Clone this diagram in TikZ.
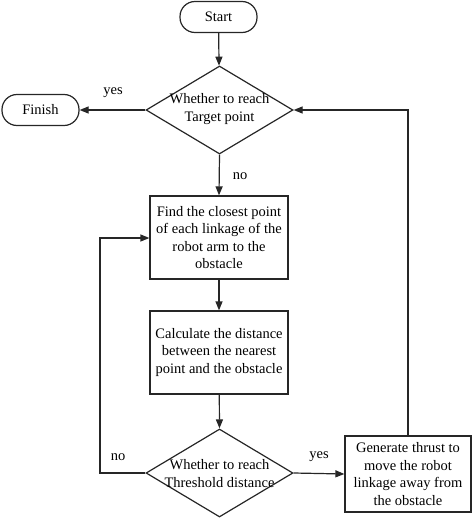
\documentclass[tikz,border=0pt]{standalone}
\usepackage{fontspec}
\setmainfont{Liberation Serif}
\usetikzlibrary{shapes.geometric,arrows.meta}
\begin{document}
\begin{tikzpicture}[x=1pt,y=-1pt,
  every node/.style={font=\fontsize{14.5}{17.5}\selectfont},
  line/.style={line width=1.2pt,draw=black!85},
  arr/.style={line, -{Triangle[length=9pt,width=7pt]}},
  term/.style={draw=black!85,line width=1.2pt,rounded corners=15pt,minimum width=77pt,minimum height=31pt,inner sep=0pt},
  proc/.style={draw=black!85,line width=1.2pt,minimum width=138pt,minimum height=83pt,inner sep=0pt,align=center},
  dia/.style={draw=black!85,line width=1.2pt,diamond,aspect=1.67,minimum width=147pt,minimum height=88pt,inner sep=0pt},
  lbl/.style={inner sep=0pt,align=center},
]
\useasboundingbox (0,0) rectangle (474,519);
\node[term] (start) at (218.5,17) {Start};
\node[dia] (d1) at (219.5,110) {};
\node[lbl] (d1t) at (219.5,109) {Whether to reach\\Target point};
\node[term] (fin) at (40.5,110) {Finish};
\node[proc] (b1) at (219,237.5) {Find the closest point\\of each linkage of the\\robot arm to the\\obstacle};
\node[proc] (b2) at (219,352.5) {Calculate the distance\\between the nearest\\point and the obstacle};
\node[dia] (d2) at (219.5,473) {};
\node[lbl] (d2t) at (219.5,473.5) {Whether to reach\\Threshold distance};
\node[draw=black!85,line width=1.2pt,minimum width=126pt,minimum height=76pt,inner sep=0pt,align=center] (b3) at (408,474) {Generate thrust to\\move the robot\\linkage away from\\the obstacle};
\coordinate (cl) at (100,473);
\coordinate (cl2) at (100,238);
\coordinate (cr) at (408,110);

\draw[arr] (start) -- (d1);
\draw[arr] (d1.west) -- (fin.east);
\draw[arr] (d1.south) -- (b1.north);
\draw[arr] (b1) -- (b2);
\draw[arr] (b2) -- (d2.north);
\draw[arr] (d2.west) -- (cl) -- (cl2) -- (b1.west |- cl2);
\draw[arr] (d2.east) -- (b3.west);
\draw[arr] (b3.north) -- (cr) -- (d1.east);

\node[lbl] (yes1) at (113,93) {yes};
\node[lbl] (no1) at (240,176) {no};
\node[lbl] (no2) at (118,457) {no};
\node[lbl] (yes2) at (319,457) {yes};
\end{tikzpicture}
\end{document}
